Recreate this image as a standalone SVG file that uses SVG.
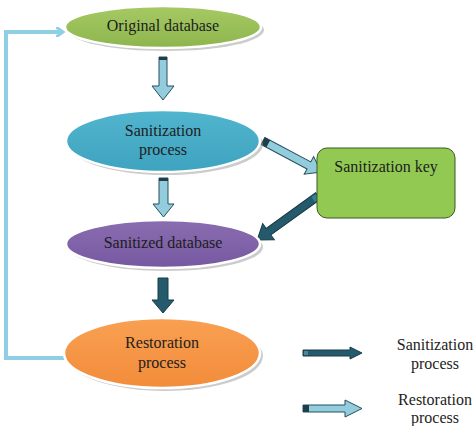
<svg xmlns="http://www.w3.org/2000/svg" width="474" height="426" viewBox="0 0 474 426">
<style>
.shadow{fill:#9a9a9a;opacity:0.5}
.node{stroke:#ffffff;stroke-width:2.5}
.la{fill:#93cddd;stroke:#254f5c;stroke-width:1}
.da{fill:#245a6b;stroke:#173c48;stroke-width:1}
.band{fill:#1e3e4a}
</style>
<defs>
<linearGradient id="gGreen" x1="0" y1="0" x2="0" y2="1"><stop offset="0" stop-color="#a6c964"/><stop offset="1" stop-color="#8db54d"/></linearGradient>
<linearGradient id="gTeal" x1="0" y1="0" x2="0" y2="1"><stop offset="0" stop-color="#52b5cf"/><stop offset="1" stop-color="#3ea3bf"/></linearGradient>
<linearGradient id="gPurple" x1="0" y1="0" x2="0" y2="1"><stop offset="0" stop-color="#8a6db0"/><stop offset="1" stop-color="#7558a0"/></linearGradient>
<linearGradient id="gOrange" x1="0" y1="0" x2="0" y2="1"><stop offset="0" stop-color="#f9a052"/><stop offset="1" stop-color="#f28c3a"/></linearGradient>
<marker id="fb" markerWidth="10" markerHeight="10" refX="6" refY="5" orient="auto" markerUnits="userSpaceOnUse" viewBox="0 0 10 10">
<path d="M0,0 L7,5 L0,10" fill="none" stroke="#8fcfe6" stroke-width="3"/>
</marker>
</defs>

<g id="connectors">
<polyline points="66,358 6,358 6,32 62,32" fill="none" stroke="#8fcfe6" stroke-width="4" marker-end="url(#fb)"/>
<g>
<polygon class="la" points="159,57 167,57 167,86 174,86 163,100 152,86 159,86"/>
<rect class="band" x="159" y="57" width="8" height="3"/>
</g>
<g>
<polygon class="la" points="159,178 168,178 168,204 174,204 163.5,217 153,204 159,204"/>
<rect class="band" x="159" y="178" width="9" height="3"/>
</g>
<g>
<polygon class="da" points="158,278 168,278 168,300 174,300 163,313 152,300 158,300"/>
</g>
<g transform="translate(263,141) rotate(28)">
<polygon class="la" points="0,-4 52,-4 52,-10 66,0 52,10 52,4 0,4"/>
<rect class="band" x="0" y="-4" width="6" height="8"/>
</g>
<g transform="translate(318,196) rotate(144.2)">
<polygon class="da" points="0,-4 61,-4 61,-10 75,0 61,10 61,4 0,4"/>
<rect fill="#3a7f99" x="1" y="-3" width="5" height="6"/>
</g>
</g>

<g font-family="Liberation Serif, serif" font-size="16" fill="#1d1d1d" text-anchor="middle">
<g id="original-database">
<ellipse class="shadow" cx="166" cy="30" rx="98" ry="21"/>
<ellipse class="node" cx="163" cy="27" rx="98" ry="21" fill="url(#gGreen)"/>
<text x="163" y="31">Original database</text>
</g>

<g id="sanitization-process">
<ellipse class="shadow" cx="166" cy="144" rx="97" ry="31"/>
<ellipse class="node" cx="163" cy="141" rx="97" ry="31" fill="url(#gTeal)"/>
<text x="163" y="136">Sanitization</text>
<text x="163" y="155">process</text>
</g>

<g id="sanitized-database">
<ellipse class="shadow" cx="166" cy="247" rx="97" ry="24"/>
<ellipse class="node" cx="163" cy="244" rx="97" ry="24" fill="url(#gPurple)"/>
<text x="163" y="248">Sanitized database</text>
</g>

<g id="restoration-process">
<ellipse class="shadow" cx="165" cy="356" rx="98" ry="35"/>
<ellipse class="node" cx="162" cy="353" rx="98" ry="35" fill="url(#gOrange)"/>
<text x="162" y="348">Restoration</text>
<text x="162" y="368">process</text>
</g>

<g id="sanitization-key">
<rect x="317" y="148" width="138" height="70" rx="10" ry="10" fill="#92c953" stroke="#3c5a22" stroke-width="1"/>
<text x="386" y="172">Sanitization key</text>
</g>

<g id="legend">
<polygon class="da" points="303,350 350,350 350,347 362,353 350,359 350,356 303,356"/>
<rect fill="#4a86a0" x="304" y="351" width="4" height="4"/>
<text x="435" y="350">Sanitization</text>
<text x="435" y="369">process</text>
<polygon class="la" points="303,405 345,405 345,400 362,408.5 345,417 345,412 303,412"/>
<rect class="band" x="303" y="405" width="6" height="7"/>
<text x="435" y="405">Restoration</text>
<text x="435" y="423">process</text>
</g>
</g>
</svg>
